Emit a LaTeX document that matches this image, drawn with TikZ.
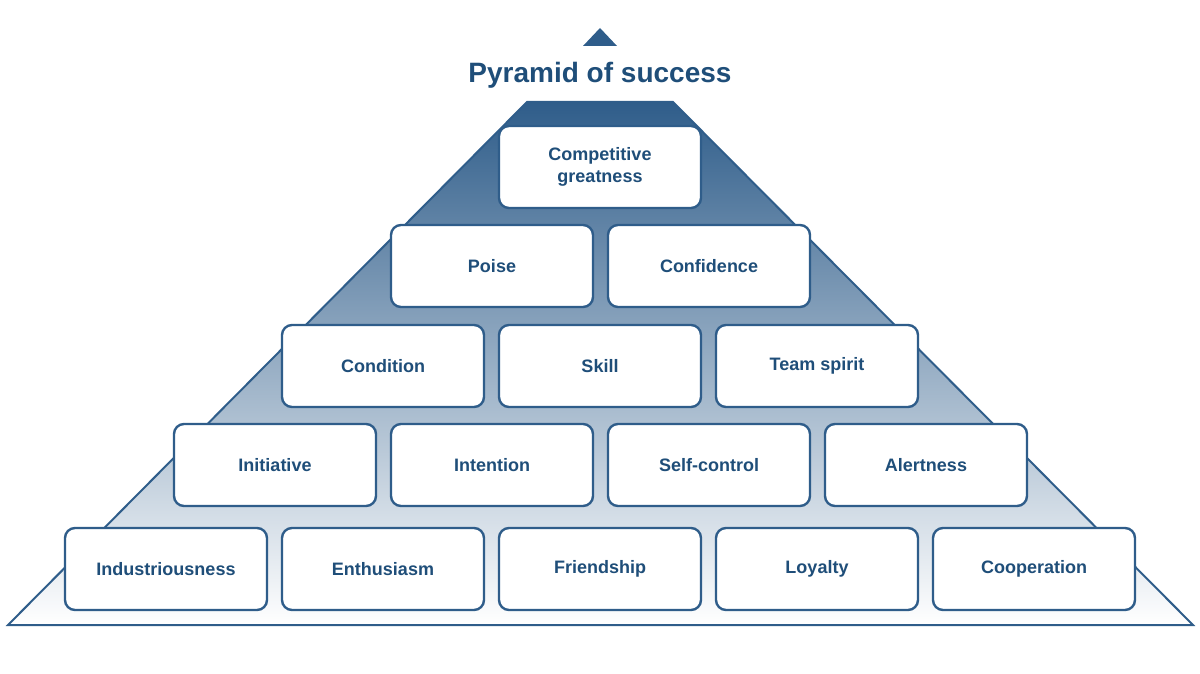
\documentclass[tikz,border=0pt]{standalone}
\usepackage{fontspec}
\setmainfont{Liberation Sans}
\definecolor{navy}{HTML}{1F4E79}
\definecolor{edgeblue}{HTML}{2F5D8A}
\tikzset{
  brick/.style={draw=edgeblue, line width=1.2pt, fill=white, rounded corners=5pt,
    minimum width=101pt, minimum height=41pt, align=center, text=navy,
    font=\fontsize{9}{11}\selectfont\bfseries, inner sep=0pt}
}
\begin{document}
\begin{tikzpicture}[x=0.5pt,y=-0.5pt]
        \useasboundingbox (0,0) rectangle (1200,674);
        \shade[top color=edgeblue, bottom color=white, draw=edgeblue, line width=1pt]
          (527,102) -- (673,102) -- (1193,625) -- (8,625) -- cycle;
        \fill[edgeblue] (600,28) -- (617,46) -- (583,46) -- cycle;
        \node[text=navy, font=\fontsize{14}{16}\selectfont\bfseries] (title) at (600,75) {Pyramid of success};

        % top
        \node[brick] (greatness) at (600,167) {Competitive\\greatness};
        % row two
        \node[brick] (poise) at (492,266) {Poise};
        \node[brick] (confidence) at (709,266) {Confidence};
        % row three
        \node[brick] (condition) at (383,366) {Condition};
        \node[brick] (skill) at (600,366) {Skill};
        \node[brick] (teamspirit) at (817,366) {Team spirit};
        % row four
        \node[brick] (initiative) at (275,465) {Initiative};
        \node[brick] (intention) at (492,465) {Intention};
        \node[brick] (selfcontrol) at (709,465) {Self-control};
        \node[brick] (alertness) at (926,465) {Alertness};
        % base
        \node[brick] (industriousness) at (166,569) {Industriousness};
        \node[brick] (enthusiasm) at (383,569) {Enthusiasm};
        \node[brick] (friendship) at (600,569) {Friendship};
        \node[brick] (loyalty) at (817,569) {Loyalty};
        \node[brick] (cooperation) at (1034,569) {Cooperation};
\end{tikzpicture}
\end{document}
